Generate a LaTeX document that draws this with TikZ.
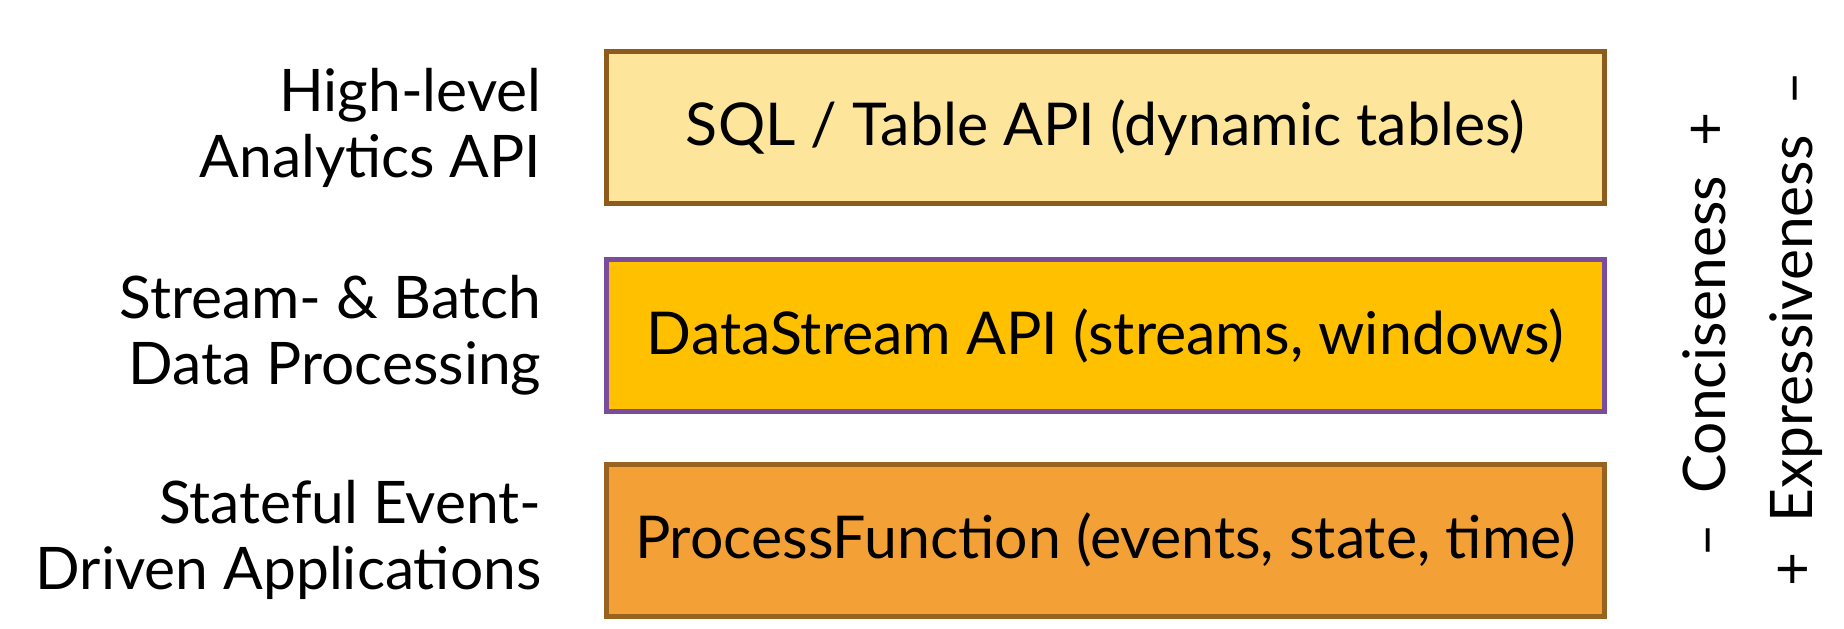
\documentclass[tikz,border=0pt]{standalone}
\usepackage{fontspec}
\setmainfont{Lato}
\usetikzlibrary{positioning}

\definecolor{sqlfill}{HTML}{FDE59B}
\definecolor{sqldraw}{HTML}{8E5B1F}
\definecolor{dsfill}{HTML}{FFC000}
\definecolor{dsdraw}{HTML}{7A4D9C}
\definecolor{pffill}{HTML}{F3A136}
\definecolor{pfdraw}{HTML}{98621F}

\begin{document}
\begin{tikzpicture}[node distance=0.5cm,font=\fontsize{16.8}{18.5}\selectfont]

	\tikzset{layer/.style={draw, line width=1.4pt,
			minimum width=9.98cm, minimum height=1.52cm, inner sep=0pt},
		lbl/.style={align=right, inner sep=0pt,
			font=\fontsize{16.7}{18.8}\selectfont},
		side/.style={rotate=90, anchor=base, inner sep=0pt,
			font=\fontsize{16.7}{18.5}\selectfont}}

	\useasboundingbox (0,0) rectangle (18.44,6.28);

	% the three API layers
	\node[layer, fill=sqlfill, draw=sqldraw] (T) at (11.055,5.005) {SQL / Table API (dynamic tables)};
	\node[layer, fill=dsfill, draw=dsdraw, below=0.51cm of T] (D) {DataStream API (streams, windows)};
	\node[layer, fill=pffill, draw=pfdraw, below=0.48cm of D] (P) {ProcessFunction (events, state, time)};

	% what each layer is for
	\node[lbl, left=0.62cm of T] (TL) {High-level\\Analytics API};
	\node[lbl, left=0.62cm of D] (DL) {Stream- \& Batch\\Data Processing};
	\node[lbl, left=0.62cm of P] (PL) {Stateful Event-\\Driven Applications};

	% trade-off axes
	\node[side] (C) at (17.25,2.93) {–\hspace{0.3cm}Conciseness\hspace{0.3cm}+};
	\node[side] (E) at (18.12,2.99) {+\hspace{0.3cm}Expressiveness\hspace{0.3cm}–};

\end{tikzpicture}
\end{document}
